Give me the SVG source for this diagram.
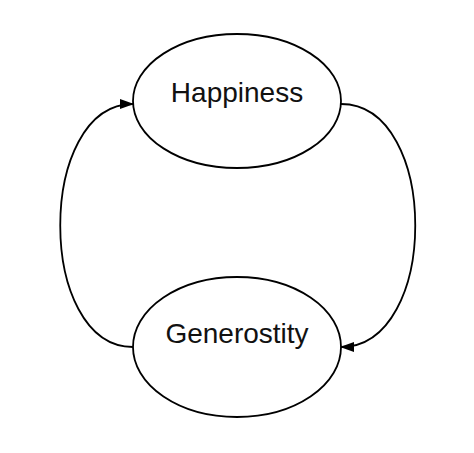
<svg xmlns="http://www.w3.org/2000/svg" width="474" height="453" viewBox="0 0 474 453">
<style>
.node{fill:#fff;stroke:#000;stroke-width:1.8}
.lbl{font-family:"Liberation Sans",Arial,sans-serif;font-size:28px;fill:#111;text-anchor:middle}
.edge{fill:none;stroke:#000;stroke-width:1.8}
</style>
<defs>
<marker id="ah" markerWidth="14" markerHeight="10" refX="13" refY="5" orient="auto" markerUnits="userSpaceOnUse">
<path d="M0,0 L14,5 L0,10 z" fill="#000"/>
</marker>
</defs>
<rect width="474" height="453" fill="#fff"/>
<g id="connectors">
<path class="edge" d="M133,347 C36,347 36,104 133,104" marker-end="url(#ah)"/>
<path class="edge" d="M341,104 C440,104 440,347 341,347" marker-end="url(#ah)"/>
</g>
<g id="happiness">
<ellipse class="node" cx="237" cy="101" rx="104" ry="67"/>
<text class="lbl" x="237" y="102">Happiness</text>
</g>
<g id="generostity">
<ellipse class="node" cx="237" cy="347" rx="104" ry="70"/>
<text class="lbl" x="237" y="343">Generostity</text>
</g>
</svg>
